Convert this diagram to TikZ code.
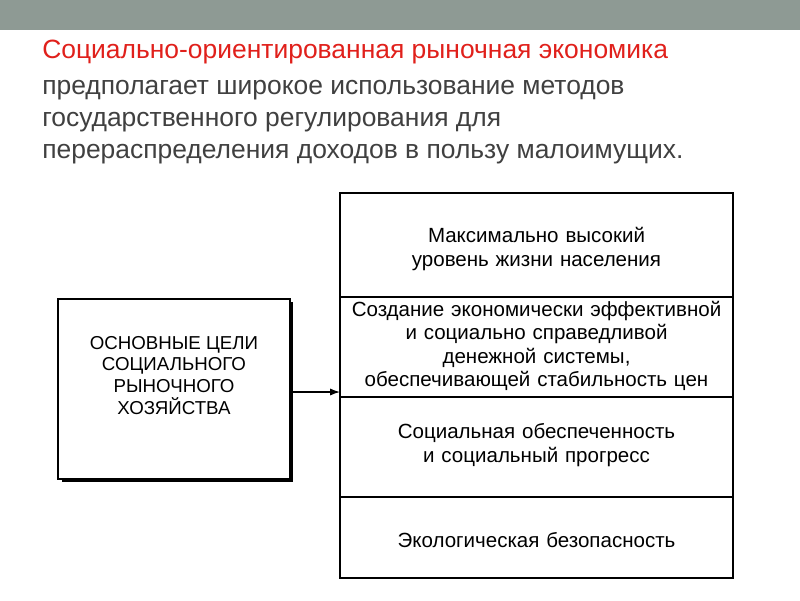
\documentclass[tikz,border=0pt]{standalone}
\usepackage{fontspec}
\setmainfont{Liberation Sans}
\usetikzlibrary{positioning,arrows.meta}
\definecolor{barGray}{HTML}{8E9A94}
\definecolor{titleRed}{HTML}{E0201B}
\definecolor{bodyGray}{HTML}{404040}
\tikzset{>={Latex[length=7pt,width=5pt]},
  cell/.style={text width=9.8cm,align=center,font=\fontsize{14.6}{16.5}\selectfont},
  bodyline/.style={anchor=west,text=bodyGray,font=\fontsize{18.8}{22}\selectfont,inner sep=0pt}}

\begin{document}
\begin{tikzpicture}[x=0.025cm,y=-0.025cm]
    % Frame and top bar
    \useasboundingbox (0,0) rectangle (800,600);
    \fill[barGray] (0,0) rectangle (800,30);

    % Heading and text
    \node[bodyline,text=titleRed] (title) at (42,52) {Социально-ориентированная рыночная экономика};
    \node[bodyline] (l1) at (42,90) {предполагает широкое использование методов};
    \node[bodyline] (l2) at (42,122) {государственного регулирования для};
    \node[bodyline] (l3) at (42,154) {перераспределения доходов в пользу малоимущих.};

    % Left box with shadow
    \fill (62,302) rectangle (293,482);
    \node[draw,thick,fill=white,minimum width=5.8cm,minimum height=4.5cm,
          align=center,font=\fontsize{13.3}{15.5}\selectfont] (goals) at (174,389)
        {ОСНОВНЫЕ ЦЕЛИ\\СОЦИАЛЬНОГО\\РЫНОЧНОГО\\ХОЗЯЙСТВА\\[4pt]};

    % Right column
    \draw[thick] (340,193) rectangle (733,578);
    \foreach \y in {297,397,497} \draw[thick] (340,\y) -- (733,\y);
    \node[cell] (c1) at (536.5,249) {Максимально высокий\\уровень жизни населения};
    \node[cell] (c2) at (536.5,346) {Создание экономически эффективной\\и социально справедливой\\денежной системы,\\обеспечивающей стабильность цен};
    \node[cell] (c3) at (536.5,445) {Социальная обеспеченность\\и социальный прогресс};
    \node[cell] (c4) at (536.5,540) {Экологическая безопасность};

    % Arrow
    \coordinate (tip) at (340,392);
    \draw[thick,->] (goals.east |- tip) -- (tip);
\end{tikzpicture}
\end{document}
